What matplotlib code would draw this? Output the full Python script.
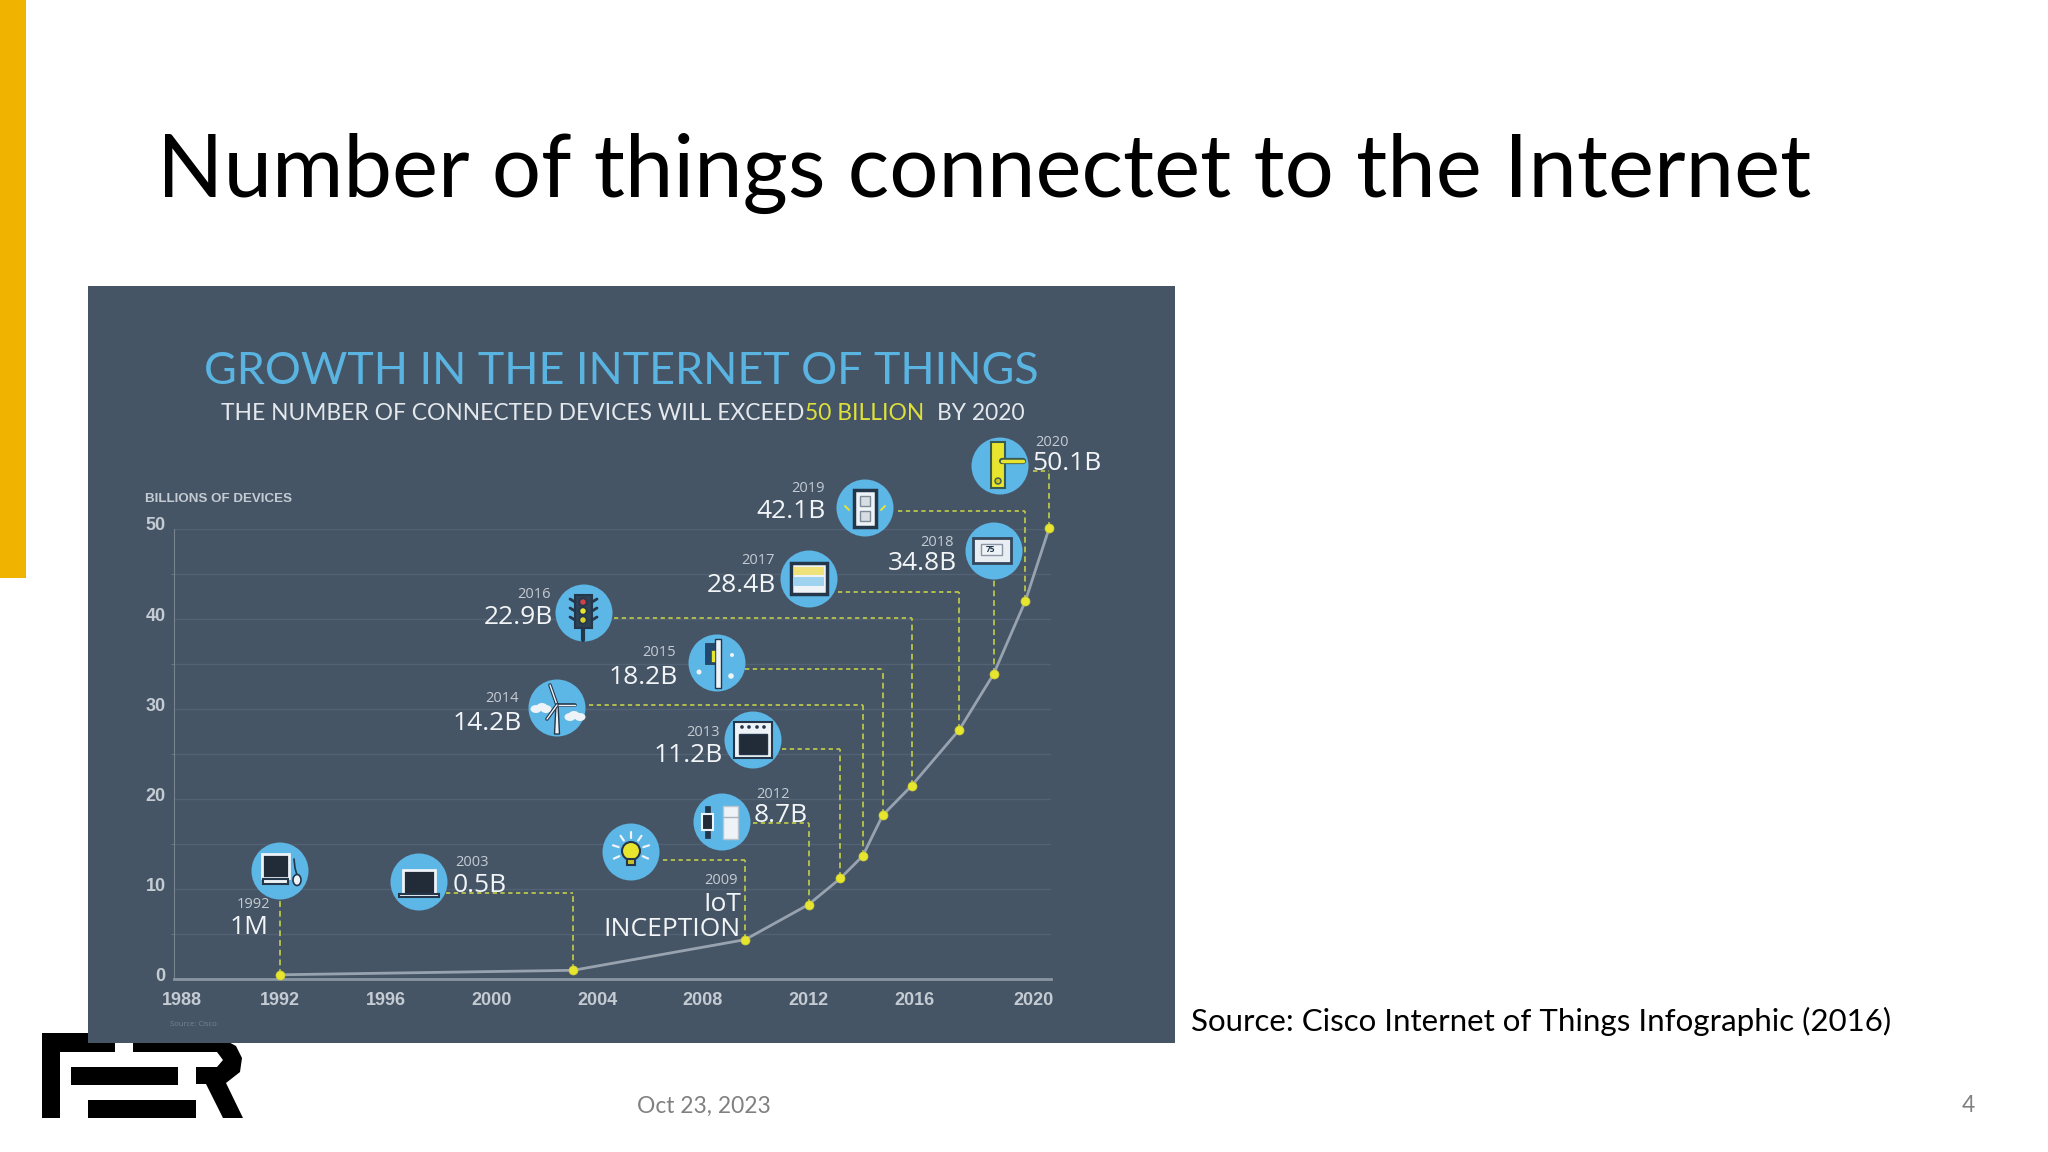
import matplotlib
matplotlib.use("Agg")
import matplotlib.pyplot as plt
from matplotlib.patches import Circle, Ellipse, Polygon, Rectangle
from matplotlib.transforms import ScaledTranslation

W, H = 2048, 1152

# chart data
years = ["1992", "2003", "2009", "2012", "2013", "2014", "2015", "2016", "2017", "2018", "2019", "2020"]
point_x = [1992, 2003.1, 2009.6, 2012, 2013.2, 2014.05, 2014.8, 2015.9, 2017.7, 2019, 2020.2, 2021.1]
devices = [0.5, 1.0, 4.4, 8.3, 11.2, 13.7, 18.2, 21.5, 27.7, 33.9, 42.0, 50.1]
value_labels = ["1M", "0.5B", "IoT\nINCEPTION", "8.7B", "11.2B", "14.2B", "18.2B", "22.9B", "28.4B", "34.8B", "42.1B", "50.1B"]

x_tick_pos = [1988.3, 1992, 1996, 2000, 2004, 2008, 2012, 2016, 2020.5]
x_tick_labels = ["1988", "1992", "1996", "2000", "2004", "2008", "2012", "2016", "2020"]
y_ticks = [0, 10, 20, 30, 40, 50]
y_minor = [5, 15, 25, 35, 45]

# dashed leaders: height of the elbow and where the horizontal part begins
leader_y = [8.9, 9.6, 13.2, 17.3, 25.6, 30.5, 34.5, 40.1, 43.0, 44.5, 52.0, 56.4]
leader_start = [1992, 1998.3, 2006.5, 2009.9, 2011.0, 2003.7, 2009.6, 2004.65, 2013.1, 2019, 2015.4, 2020.5]

# layout in slide pixels
icon_x = [280, 419, 631, 722, 753, 557, 717, 584, 809, 994, 865, 1000]
icon_y = [871, 882, 852, 822, 740, 708, 663, 613, 579, 551, 508, 466]
year_x = [270, 455, 738, 756, 720, 519, 676, 551, 775, 954, 825, 1035]
year_y = [903, 861, 879, 792, 730, 696, 651, 593, 559, 540, 486, 441]
value_x = [269, 453, 741, 754, 723, 522, 678, 553, 776, 957, 826, 1032]
value_y = [928, 885, 917, 816, 756, 723, 677, 617, 586, 564, 511, 464]
label_side = ["right", "left", "right", "left", "right", "right", "right", "right", "right", "right", "right", "left"]

PANEL = "#465566"
BLUE = "#5cb6e6"
DARK = "#24364a"
YELLOW = "#e8e52e"
LEADER = "#b2bd4c"
WHITE = "#eef3f7"
LABEL = "#c4cbd3"
NARROW = "Liberation Sans"

plt.rcParams["font.family"] = ["Open Sans", "DejaVu Sans"]

fig = plt.figure(figsize=(W / 100, H / 100), dpi=100, facecolor="white")


def pixel_axes(z):
    a = fig.add_axes([0, 0, 1, 1], zorder=z)
    a.set_xlim(0, W)
    a.set_ylim(H, 0)
    a.axis("off")
    return a


slide = pixel_axes(0)
top = pixel_axes(3)

# slide furniture
slide.add_patch(Rectangle((0, 0), 26, 578, color="#f0b400", lw=0))
slide.text(157, 165, "Number of things connectet to the Internet", fontsize=62.6, family="Lato",
           color="black", va="center_baseline")
slide.text(1191, 1019, "Source: Cisco Internet of Things Infographic (2016)", fontsize=22.5, family="Lato",
           color="black", va="center_baseline")
slide.text(704, 1104, "Oct 23, 2023", fontsize=16.4, family="Lato", color="#808080", ha="center", va="center_baseline")
slide.text(1968, 1104, "4", fontsize=16.4, family="Lato", color="#808080", ha="center", va="center_baseline")

# logo, the panel sits on top of it
slide.add_patch(Polygon([(42, 1033), (115, 1033), (115, 1052), (60, 1052), (60, 1118), (42, 1118)], color="black", lw=0))
slide.add_patch(Rectangle((71, 1067), 107, 17.5, color="black", lw=0))
slide.add_patch(Rectangle((88, 1100), 108, 18, color="black", lw=0))
slide.add_patch(Polygon([(133, 1040), (225, 1040), (236, 1046), (242, 1058), (240, 1072), (226, 1083), (243, 1118), (223, 1118),
                         (206, 1084), (196, 1084), (196, 1067), (217, 1067), (223, 1060), (217, 1052), (133, 1052)],
                        color="black", lw=0))
slide.add_patch(Rectangle((88, 286), 1087, 757, color=PANEL, lw=0, zorder=5))

slide.text(621, 367, "GROWTH IN THE INTERNET OF THINGS", fontsize=32.3, family="Lato", color="#5ab4e2",
           ha="center", va="center_baseline", zorder=6)
slide.text(221, 411, "THE NUMBER OF CONNECTED DEVICES WILL EXCEED", fontsize=16.4, color="#e4e8ec", family="Lato",
           va="center_baseline", zorder=6)
slide.text(805, 411, "50 BILLION", fontsize=16.4, color="#dfe03a", family="Lato", va="center_baseline", zorder=6)
slide.text(937, 411, "BY 2020", fontsize=16.4, color="#e4e8ec", family="Lato", va="center_baseline", zorder=6)
slide.text(145, 497, "BILLIONS OF DEVICES", fontsize=9.6, family=NARROW, weight="bold", color=LABEL,
           va="center_baseline", zorder=6)
slide.text(193, 1024, "Source: Cisco", fontsize=5.5, color="#75828f", ha="center", va="center", zorder=6)

# plot area
ax = fig.add_axes([174 / W, 1 - 979.3 / H, 877 / W, 450.3 / H], zorder=2)
ax.patch.set_alpha(0)
ax.set_xlim(1988, 2021.17)
ax.set_ylim(0, 50)
ax.set_yticks(y_ticks)
ax.set_yticklabels([str(v) for v in y_ticks], family=NARROW, weight="bold", color=LABEL, fontsize=13)
ax.set_yticks(y_minor, minor=True)
ax.set_xticks(x_tick_pos)
ax.set_xticklabels(x_tick_labels, family=NARROW, weight="bold", color=LABEL, fontsize=13)
ax.grid(which="both", axis="y", color="#526173", lw=1)
ax.set_axisbelow(True)
ax.tick_params(axis="y", which="major", length=0, pad=6)
ax.tick_params(axis="y", which="minor", length=2, color="#6d7a89")
ax.tick_params(axis="x", length=0, pad=9)
offset = ScaledTranslation(0, 5 / 100, fig.dpi_scale_trans)
for lab in ax.get_yticklabels():
    lab.set_transform(lab.get_transform() + offset)
for name in ["top", "right"]:
    ax.spines[name].set_visible(False)
ax.spines["left"].set_color("#76838f")
ax.spines["bottom"].set_color("#8a95a1")
ax.spines["bottom"].set_linewidth(2)

for i in range(len(years)):
    if leader_start[i] != point_x[i]:
        ax.plot([leader_start[i], point_x[i]], [leader_y[i], leader_y[i]], color=LEADER, lw=1.4,
                ls=(0, (2.2, 1.8)), clip_on=False)
    ax.plot([point_x[i], point_x[i]], [devices[i], leader_y[i]], color=LEADER, lw=1.4,
            ls=(0, (3, 2)), clip_on=False)
ax.plot(point_x, devices, color="#98a3af", lw=2, clip_on=False, zorder=4)
ax.plot(point_x, devices, "o", color=YELLOW, ms=6.5, mec="#c9cc35", mew=0.5, clip_on=False, zorder=5)


def box(x, y, w, h, fc, ec=DARK, lw=1.5):
    top.add_patch(Rectangle((x, y), w, h, fc=fc, ec=ec, lw=lw, zorder=5))


def seg(xs, ys, color=DARK, lw=1.5):
    top.plot(xs, ys, color=color, lw=lw, zorder=5, solid_capstyle="round")


def dot(x, y, r, fc, ec=DARK, lw=1.2):
    top.add_patch(Circle((x, y), r, fc=fc, ec=ec, lw=lw, zorder=6))


def icon_desktop(x, y):
    box(x - 18, y - 17, 27, 24, "#222c38", WHITE, 2)
    box(x - 17, y + 8, 25, 5, WHITE)
    seg([x + 14, x + 15, x + 17], [y - 12, y - 3, y + 4], lw=1.2)
    top.add_patch(Ellipse((x + 17, y + 9), 8, 11, fc=WHITE, ec=DARK, lw=1.2, zorder=5))


def icon_laptop(x, y):
    box(x - 16, y - 12, 32, 24, "#222c38", WHITE, 2)
    box(x - 20, y + 12, 40, 3, WHITE)


def icon_bulb(x, y):
    top.add_patch(Circle((x, y - 1), 9, fc=YELLOW, ec=DARK, lw=1.5, zorder=5))
    box(x - 4, y + 7, 8, 6, "#c8c22c")
    for dx, dy in [(0, -1), (0.55, -0.8), (-0.55, -0.8), (0.95, -0.3), (-0.95, -0.3), (0.9, 0.4), (-0.9, 0.4)]:
        seg([x + dx * 13, x + dx * 19], [y - 1 + dy * 13, y - 1 + dy * 19], color=WHITE, lw=1.6)


def icon_watch_fridge(x, y):
    box(x - 17, y - 16, 5, 32, DARK, DARK, 0.5)
    box(x - 20, y - 8, 11, 16, "#222c38", WHITE, 1.5)
    box(x + 1, y - 16, 15, 33, WHITE, "#b9c4ce", 1)
    seg([x + 1, x + 16], [y - 5, y - 5], color="#aab5bf", lw=1)


def icon_oven(x, y):
    box(x - 19, y - 18, 38, 36, WHITE)
    box(x - 14, y - 6, 28, 20, "#222c38", DARK, 1)
    for dx in [-11, -4, 4, 11]:
        dot(x + dx, y - 13, 1.6, DARK, DARK, 0.3)


def icon_turbine(x, y):
    top.add_patch(Polygon([(x - 1, y - 4), (x + 1, y - 4), (x + 2.5, y + 26), (x - 2.5, y + 26)], fc=WHITE, ec=DARK, lw=1, zorder=5))
    for ex, ey in [(-7, -20), (18, 0), (-10, 14)]:
        seg([x, x + ex], [y - 3, y - 3 + ey], color=DARK, lw=2.6)
        seg([x, x + ex], [y - 3, y - 3 + ey], color=WHITE, lw=1)
    for cx, cy in [(-15, -1), (-21, 1), (-11, 1), (17, 7), (23, 9), (13, 9)]:
        top.add_patch(Ellipse((x + cx, y + cy), 11, 8, fc=WHITE, ec="none", zorder=4))


def icon_toothbrush(x, y):
    box(x - 2, y - 24, 6, 49, WHITE, DARK, 1)
    box(x - 12, y - 20, 10, 21, "#22486e", DARK, 0.5)
    box(x - 6, y - 13, 4, 12, YELLOW, DARK, 0.4)
    for dx, dy, r in [(15, -8, 2), (-18, 9, 2.5), (14, 13, 2.8)]:
        top.add_patch(Circle((x + dx, y + dy), r, fc=WHITE, ec="none", zorder=5))


def icon_traffic(x, y):
    seg([x - 1, x - 1], [y + 12, y + 27], lw=3)
    box(x - 9, y - 18, 17, 33, "#2e4054")
    for dy, col in [(-11, "#d0414a"), (-2, YELLOW), (7, "#d8d22c")]:
        dot(x - 1, y + dy, 3.6, col)
    for dy in [-14, -5, 4]:
        seg([x - 14, x - 9], [y + dy, y + dy + 3], lw=2)
        seg([x + 8, x + 13], [y + dy + 3, y + dy], lw=2)


def icon_tablet(x, y):
    box(x - 18, y - 16, 36, 31, WHITE, DARK, 2.5)
    box(x - 15, y - 12, 30, 8, "#f0e27a", "none", 0)
    box(x - 15, y - 2, 30, 9, "#9ed2ee", "none", 0)


def icon_thermostat(x, y):
    box(x - 21, y - 13, 38, 25, "#e9eef2", "#33465a", 2)
    box(x - 13, y - 7, 21, 11, WHITE, "#8a96a3", 1)
    top.text(x - 3, y - 1.5, "75", fontsize=6, color=DARK, weight="bold", ha="center", va="center", zorder=6)


def icon_outlet(x, y):
    box(x - 11, y - 18, 22, 37, WHITE, DARK, 2.5)
    box(x - 5, y - 12, 10, 10, "#d7dde3", "#7d8a97", 1)
    box(x - 5, y + 3, 10, 10, "#d7dde3", "#7d8a97", 1)
    for s in [-1, 1]:
        seg([x + s * 16, x + s * 20], [y + 2, y - 2], color=YELLOW, lw=1.4)


def icon_door(x, y):
    box(x - 9, y - 24, 14, 46, YELLOW, "#3a5a50", 1.5)
    dot(x - 2, y + 15, 3, "#c8c22c", "#3a5a50", 1)
    seg([x + 2, x + 23], [y - 5, y - 5], color="#3a5a50", lw=4.5)
    seg([x + 2, x + 23], [y - 5, y - 5], color=YELLOW, lw=2.5)


icon_drawers = [icon_desktop, icon_laptop, icon_bulb, icon_watch_fridge, icon_oven, icon_turbine,
                icon_toothbrush, icon_traffic, icon_tablet, icon_thermostat, icon_outlet, icon_door]

for i, draw in enumerate(icon_drawers):
    top.add_patch(Circle((icon_x[i], icon_y[i]), 28.5, fc=BLUE, ec="none", zorder=3))
    draw(icon_x[i], icon_y[i])
    top.text(year_x[i], year_y[i], years[i], fontsize=10.5, color=LABEL, ha=label_side[i], va="center_baseline", zorder=7)
    top.text(value_x[i], value_y[i], value_labels[i], fontsize=19, color="#f2f5f7", ha=label_side[i], va="center",
             multialignment="right", linespacing=1.0, zorder=7)

fig.savefig("out.png", dpi=100)
